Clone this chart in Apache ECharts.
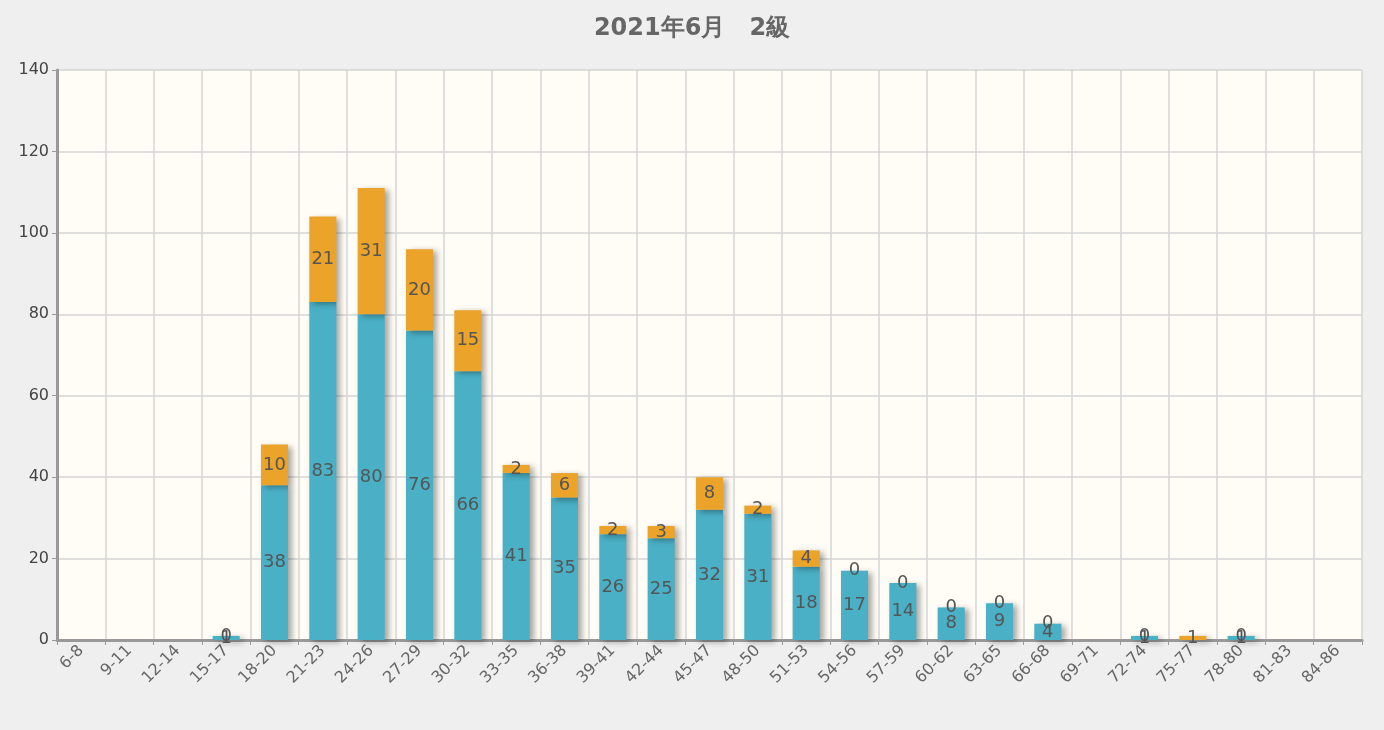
<!DOCTYPE html>
<html><head><meta charset="utf-8">
<script src="https://cdn.jsdelivr.net/npm/echarts@6/dist/echarts.min.js"></script>
<style>html,body{margin:0;padding:0;background:#efefef}#c{width:1384px;height:730px}</style>
</head><body><div id="c"></div>
<script>
var categories=['6-8','9-11','12-14','15-17','18-20','21-23','24-26','27-29','30-32','33-35','36-38','39-41','42-44','45-47','48-50','51-53','54-56','57-59','60-62','63-65','66-68','69-71','72-74','75-77','78-80','81-83','84-86'];
var seriesBlue=[null,null,null,1,38,83,80,76,66,41,35,26,25,32,31,18,17,14,8,9,4,null,1,null,1,null,null];
var seriesOrange=[null,null,null,0,10,21,31,20,15,2,6,2,3,8,2,4,0,0,0,0,0,null,0,1,0,null,null];
var yTicks={min:0,max:140,interval:20};
var lbl={show:true,position:'inside',color:'#555',fontSize:18,fontFamily:'DejaVu Sans'};
var shadow={shadowColor:'rgba(0,0,0,0.35)',shadowBlur:6,shadowOffsetX:4,shadowOffsetY:2};
var chart=echarts.init(document.getElementById('c'));
chart.setOption({
  backgroundColor:'#efefef',
  title:{text:'2021年6月　2級',left:'center',top:12,textStyle:{color:'#666',fontSize:24,fontWeight:'bold',fontFamily:'DejaVu Sans'}},
  grid:{left:57,right:22,top:70,bottom:90,show:true,backgroundColor:'#fffdf5',borderWidth:0},
  xAxis:{type:'category',data:categories,
    axisLine:{lineStyle:{color:'#999',width:3}},axisTick:{show:true,lineStyle:{color:'#999'}},
    splitLine:{show:true,lineStyle:{color:'#d5d5d5',width:1.5}},
    axisLabel:{rotate:45,color:'#666',fontSize:16,fontFamily:'DejaVu Sans',interval:0}},
  yAxis:{type:'value',min:yTicks.min,max:yTicks.max,interval:yTicks.interval,
    axisLine:{show:true,lineStyle:{color:'#999',width:3}},axisTick:{show:true,lineStyle:{color:'#999'}},
    splitLine:{lineStyle:{color:'#d5d5d5',width:1.5}},
    axisLabel:{color:'#444',fontSize:16,fontFamily:'DejaVu Sans'}},
  series:[
    {type:'bar',stack:'a',data:seriesBlue,barWidth:'56%',itemStyle:Object.assign({color:'#4ab0c6'},shadow),label:lbl},
    {type:'bar',stack:'a',data:seriesOrange,itemStyle:Object.assign({color:'#eba329'},shadow),label:lbl}
  ]
});
</script></body></html>
